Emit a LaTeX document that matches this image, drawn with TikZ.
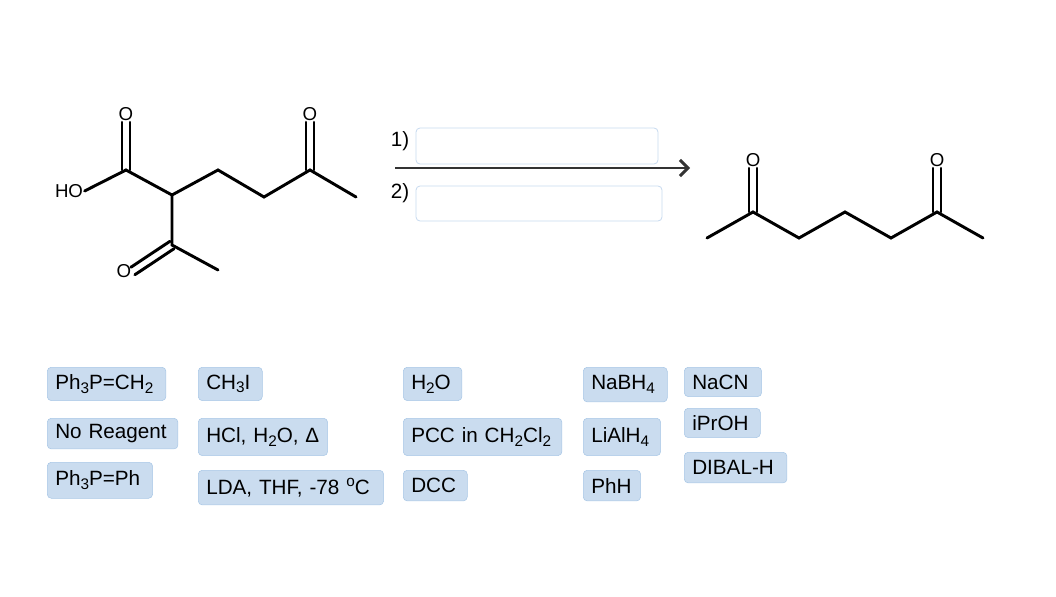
\documentclass[tikz,border=0pt]{standalone}
\usepackage{fontspec}
\setmainfont{Liberation Sans}
\usetikzlibrary{arrows.meta}
\definecolor{rfill}{HTML}{CADCEF}
\definecolor{rdraw}{HTML}{A9C7E6}
\definecolor{adraw}{HTML}{C6D9EE}
\newcommand{\sbs}[1]{\raisebox{-0.35ex}{\fontsize{11.5}{13}\selectfont #1}}
\newcommand{\sps}[1]{\raisebox{0.8ex}{\fontsize{11.5}{13}\selectfont #1}}
\begin{document}
\begin{tikzpicture}[x=0.75pt,y=-0.75pt,
 bond/.style={line width=2.2pt,line cap=round},
 atom/.style={font=\fontsize{14}{16}\selectfont,inner sep=1pt,fill=white},
 reag/.style={draw=rdraw,fill=rfill,rounded corners=3pt,font=\fontsize{15.5}{18}\selectfont,anchor=north west,inner xsep=0pt,inner ysep=0pt,align=left},
 ans/.style={draw=adraw,rounded corners=3pt,line width=0.6pt}]
\useasboundingbox (0,0) rectangle (1056,596);
% left molecule
\coordinate (c1) at (126,170); \coordinate (a) at (172,195);
\coordinate (c3) at (218,170); \coordinate (c4) at (264,197);
\coordinate (c5) at (310,170); \coordinate (m1) at (356,197);
\coordinate (k) at (172,245); \coordinate (m2) at (218,270);
\node[atom] (o1) at (126,114) {O};
\node[atom] (ho) at (69,191) {HO};
\node[atom] (o2) at (310,114) {O};
\node[atom] (o3) at (124,271) {O};
\draw[bond] (ho.east) -- (c1) -- (a) -- (c3) -- (c4) -- (c5) -- (m1);
\draw[bond] (a) -- (k) -- (m2);
\draw[bond] ([xshift=-3pt]c1) -- ([xshift=-3pt]o1.south);
\draw[bond] ([xshift=3pt]c1) -- ([xshift=3pt]o1.south);
\draw[bond] ([xshift=-3pt]c5) -- ([xshift=-3pt]o2.south);
\draw[bond] ([xshift=3pt]c5) -- ([xshift=3pt]o2.south);
\draw[bond] ([xshift=-1.5pt,yshift=2.8pt]k) -- ([xshift=-1.5pt,yshift=2.8pt]o3.east);
\draw[bond] ([xshift=1.5pt,yshift=-2.8pt]k) -- ([xshift=1.5pt,yshift=-2.8pt]o3.east);
% arrow
\coordinate (as) at (395,168); \coordinate (ae) at (690,168);
\draw[line width=2.2pt,draw=black!80,-{Straight Barb[length=6pt,width=12pt]}] (as) -- (ae);
\node[font=\fontsize{15.5}{18}\selectfont] (n1) at (400,141) {1)};
\node[font=\fontsize{15.5}{18}\selectfont] (n2) at (400,193) {2)};
\draw[ans] (416,128) rectangle (658,164);
\draw[ans] (416,186) rectangle (662,221);
% product
\coordinate (p1) at (707,238); \coordinate (p2) at (753,212);
\coordinate (p3) at (799,238); \coordinate (p4) at (845,212);
\coordinate (p5) at (891,238); \coordinate (p6) at (937,212);
\coordinate (p7) at (983,238);
\node[atom] (po1) at (753,160) {O};
\node[atom] (po2) at (937,160) {O};
\draw[bond] (p1)--(p2)--(p3)--(p4)--(p5)--(p6)--(p7);
\draw[bond] ([xshift=-3pt]p2) -- ([xshift=-3pt]po1.south);
\draw[bond] ([xshift=3pt]p2) -- ([xshift=3pt]po1.south);
\draw[bond] ([xshift=-3pt]p6) -- ([xshift=-3pt]po2.south);
\draw[bond] ([xshift=3pt]p6) -- ([xshift=3pt]po2.south);
% reagents
\node[reag,text width=89pt,minimum height=25pt] (r1) at (47,367) {\hspace*{6pt}Ph\sbs{3}P=CH\sbs{2}};
\node[reag,text width=48pt,minimum height=25pt] (r2) at (198,367) {\hspace*{6pt}CH\sbs{3}I};
\node[reag,text width=44pt,minimum height=25pt] (r3) at (403,367) {\hspace*{6pt}H\sbs{2}O};
\node[reag,text width=63pt,minimum height=26pt] (r4) at (583,367) {\hspace*{6pt}NaBH\sbs{4}};
\node[reag,text width=58pt,minimum height=22pt] (r5) at (684,367) {\hspace*{6pt}NaCN};
\node[reag,text width=98pt,minimum height=23pt] (r6) at (47,418) {\hspace*{6pt}No Reagent};
\node[reag,text width=97pt,minimum height=28pt] (r7) at (198,418) {\hspace*{6pt}HCl, H\sbs{2}O, Δ};
\node[reag,text width=119pt,minimum height=28pt] (r8) at (403,418) {\hspace*{6pt}PCC in CH\sbs{2}Cl\sbs{2}};
\node[reag,text width=58pt,minimum height=28pt] (r9) at (583,418) {\hspace*{6pt}LiAlH\sbs{4}};
\node[reag,text width=57pt,minimum height=22pt] (r10) at (684,408) {\hspace*{6pt}iPrOH};
\node[reag,text width=79pt,minimum height=27pt] (r11) at (47,462) {\hspace*{6pt}Ph\sbs{3}P=Ph};
\node[reag,text width=139pt,minimum height=26pt] (r12) at (198,470) {\hspace*{6pt}LDA, THF, -78 \sps{o}C};
\node[reag,text width=48pt,minimum height=23pt] (r13) at (403,470) {\hspace*{6pt}DCC};
\node[reag,text width=43pt,minimum height=23pt] (r14) at (583,470) {\hspace*{6pt}PhH};
\node[reag,text width=77pt,minimum height=23pt] (r15) at (684,452) {\hspace*{6pt}DIBAL-H};
\end{tikzpicture}
\end{document}
